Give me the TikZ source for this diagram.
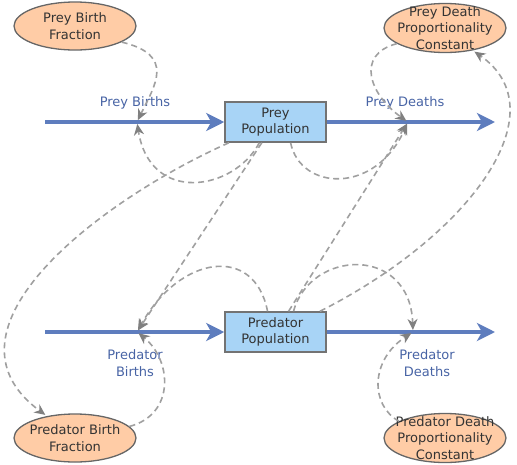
\documentclass[tikz,border=0pt]{standalone}
\usepackage{fontspec}
\setmainfont{DejaVu Sans}
\usetikzlibrary{arrows.meta,shapes.geometric}
\definecolor{flowblue}{RGB}{94,125,190}
\definecolor{rateblue}{RGB}{72,100,165}
\definecolor{stockfill}{RGB}{168,212,246}
\definecolor{auxfill}{RGB}{255,204,166}
\definecolor{linkgray}{RGB}{160,160,160}

\begin{document}
\begin{tikzpicture}[x=1pt,y=-1pt,
   font=\fontsize{13}{16.5}\selectfont,
   stock/.style={draw=black!55,line width=1.5pt,fill=stockfill,text=black!80,
      minimum width=101pt,minimum height=40pt,inner sep=0pt,align=center},
   aux/.style={ellipse,draw=black!60,line width=1.3pt,fill=auxfill,
      minimum width=122pt,minimum height=48pt,inner sep=0pt,
      label={[text=black!80,align=center,inner sep=0pt]center:#1}},
   flow/.style={flowblue,line width=3.5pt,-{Stealth[length=18pt,width=18pt,inset=5pt]}},
   link/.style={linkgray,line width=1.6pt,dash pattern=on 6pt off 4pt,shorten >=2pt,
      -{Stealth[length=11pt,width=10pt,inset=3.5pt,fill=gray,color=gray]}},
   rate/.style={text=rateblue,align=center}]
\useasboundingbox (0,0) rectangle (517,464);

\node[stock] (preyPop) at (275.5,122) {Prey\\Population};
\node[stock] (predPop) at (275.5,332) {Predator\\Population};
\node[aux={Prey Birth\\Fraction}] (preyBirthFrac) at (75,26) {};
\node[aux={Prey Death\\Proportionality\\Constant},minimum height=49pt] (preyDeathConst) at (445,28) {};
\node[aux={Predator Birth\\Fraction}] (predBirthFrac) at (75,438) {};
\node[aux={Predator Death\\Proportionality\\Constant},minimum height=49pt] (predDeathConst) at (445,438) {};

\coordinate (preySrc) at (45,122);
\coordinate (preySink) at (495,122);
\coordinate (preyBirths) at (137,122);
\coordinate (preyDeaths) at (408,122);
\coordinate (predSrc) at (45,332);
\coordinate (predSink) at (495,332);
\coordinate (predBirths) at (137,332);
\coordinate (predDeaths) at (413,332);

\draw[flow] (preySrc) -- (preyPop);
\draw[flow] (preyPop) -- (preySink);
\draw[flow] (predSrc) -- (predPop);
\draw[flow] (predPop) -- (predSink);

\node[rate] (preyBirthsLbl) at (135,103) {Prey Births};
\node[rate] (preyDeathsLbl) at (405,103) {Prey Deaths};
\node[rate] (predBirthsLbl) at (135,363) {Predator\\Births};
\node[rate] (predDeathsLbl) at (427,363) {Predator\\Deaths};

\draw[link] (preyBirthFrac.-19) .. controls +(54,13) and +(18,-37) .. (preyBirths);
\draw[link] (preyPop.-128) .. controls +(-25,48) and +(13,83) .. (preyBirths);
\draw[link] (preyPop.-156) .. controls +(-130,58) and +(-117,-86) .. (predBirthFrac.142);
\draw[link] (preyPop) -- (predBirths);
\draw[link] (preyPop.-54) .. controls +(10,48) and +(-33,73) .. (preyDeaths);
\draw[link] (preyDeathConst.-162) .. controls +(-42,11) and +(-38,-27) .. (preyDeaths);
\draw[link] (predPop) -- (preyDeaths);
\draw[link] (predPop.111) .. controls +(-13,-67) and +(43,-77) .. (predBirths);
\draw[link] (predPop.25) .. controls +(152,-77) and +(87,60) .. (preyDeathConst.-39);
\draw[link] (predPop.49) .. controls +(17,-62) and +(-3,-87) .. (predDeaths);
\draw[link] (predBirthFrac.12) .. controls +(46,-12) and +(35,28) .. (predBirths);
\draw[link] (predDeathConst.160) .. controls +(-29,-16) and +(-43,28) .. (predDeaths);
\end{tikzpicture}
\end{document}
